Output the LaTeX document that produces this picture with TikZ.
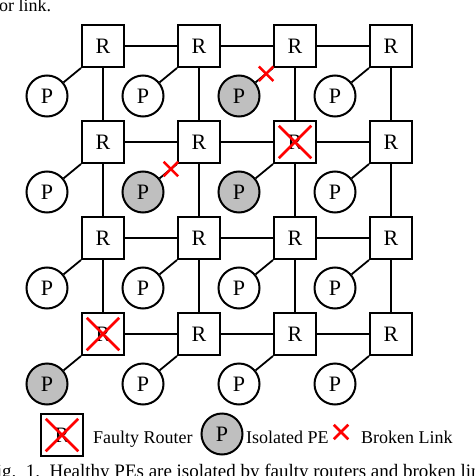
\documentclass[tikz,border=0pt]{standalone}
\usepackage{fontspec}
\setmainfont{Liberation Serif}
\usetikzlibrary{shapes.misc}
\tikzset{
  router/.style={rectangle, draw=black, line width=2pt, minimum size=42pt, inner sep=0pt, fill=white, font=\fontsize{22}{26}\selectfont},
  pe/.style={circle, draw=black, line width=2pt, minimum size=41pt, inner sep=0pt, fill=white, font=\fontsize{22}{26}\selectfont},
  iso/.style={fill=black!25},
  link/.style={line width=1.8pt},
  faulty/.style={cross out, draw=red, line width=2.5pt, minimum size=30pt, inner sep=0pt},
  broken/.style={cross out, draw=red, line width=2.5pt, minimum size=12pt, inner sep=0pt},
  legtext/.style={font=\fontsize{18}{22}\selectfont, anchor=base west, inner sep=0pt},
  isope-1-3/.style={iso}, isope-2-2/.style={iso}, isope-2-3/.style={iso}, isope-4-1/.style={iso}
}

\begin{document}
\begin{tikzpicture}[x=1pt,y=-1pt]
  \useasboundingbox (0,0) rectangle (474,476);
  \node[legtext] (Top) at (-1,12) {or link.};
  % routers and PEs
  \foreach \i in {1,...,4}
    \foreach \j in {1,...,4} {
      \node[router] (R-\i-\j) at ({7+96*\j},{-50+96*\i}) {R};
      \node[pe, isope-\i-\j/.try] (P-\i-\j) at ({-49+96*\j},{96*\i}) {P};
    }
  % mesh links
  \foreach \i in {1,...,4}
    \foreach \j/\k in {1/2,2/3,3/4} {
      \draw[link] (R-\i-\j) -- (R-\i-\k);
      \draw[link] (R-\j-\i) -- (R-\k-\i);
    }
  \foreach \i in {1,...,4}
    \foreach \j in {1,...,4}
      \draw[link] (P-\i-\j) -- (R-\i-\j.south west);
  % faults
  \path (P-1-3) -- (R-1-3.south west) node[broken, pos=0.6] (B-1-3) {};
  \path (P-2-2) -- (R-2-2.south west) node[broken, pos=0.65] (B-2-2) {};
  \node[faulty] (F-2-3) at (R-2-3) {};
  \node[faulty] (F-4-1) at (R-4-1) {};
  % legend
  \node[router] (LR) at (62,435) {R};
  \node[faulty] (LF) at (LR) {};
  \node[legtext] (LRtext) at (93,443) {Faulty Router};
  \node[pe, iso] (LP) at (222,434) {P};
  \node[legtext] (LPtext) at (246,443) {Isolated PE};
  \node[broken] (LB) at (341,432) {};
  \node[legtext] (LBtext) at (361,443) {Broken Link};
  \node[legtext, font=\fontsize{19}{23}\selectfont] (Caption) at (-14,477) {Fig.~~1.~~Healthy PEs are isolated by faulty routers and broken links.};
\end{tikzpicture}
\end{document}
